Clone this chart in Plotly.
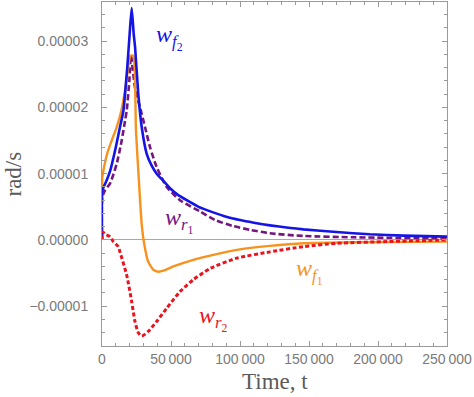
import plotly.graph_objects as go

# ---- data (values in units of 1e-5 rad/s) ----
t_wf2 = [0, 300, 3000, 6000, 10000, 13000, 15500, 18300, 20000, 21500, 23000, 24000, 26300, 28800,
         32400, 36000, 39600, 45000, 49300, 55000, 61400, 70000, 80000, 90000, 100000, 110000,
         121700, 135000, 146000, 170000, 194000, 218600, 250000]
v_wf2 = [0.0, 0.75, 0.88, 1.05, 1.4, 1.7, 1.95, 2.6, 3.1, 3.5, 3.1, 2.9, 2.2, 1.7,
         1.3, 1.12, 1.0, 0.88, 0.78, 0.68, 0.6, 0.5, 0.42, 0.35, 0.3, 0.26,
         0.22, 0.185, 0.16, 0.12, 0.085, 0.065, 0.05]

t_wf1 = [0, 300, 2000, 4000, 7000, 10600, 14000, 17000, 19000, 20500, 22700, 24600, 27000, 28800,
         30500, 33500, 37200, 40800, 45000, 51700, 66200, 80700, 97800, 121700, 146100, 182400, 250000]
v_wf1 = [0.0, 0.95, 1.15, 1.32, 1.5, 1.7, 1.95, 2.3, 2.6, 2.78, 2.78, 1.66, 0.8, 0.23,
         -0.05, -0.33, -0.45, -0.48, -0.46, -0.4, -0.3, -0.225, -0.15, -0.09, -0.05, -0.035, -0.025]

t_wr1 = [0, 300, 2200, 5800, 10650, 14270, 16700, 17900, 19800, 21000, 23900, 28800, 31200,
         34800, 39600, 46900, 56500, 71000, 82000, 94900, 108000, 121700, 146100, 182400, 250000]
v_wr1 = [0.0, 0.65, 0.75, 0.85, 1.15, 1.5, 1.8, 1.95, 2.4, 2.78, 2.3, 1.9, 1.7,
         1.4, 1.1, 0.8, 0.6, 0.43, 0.3, 0.21, 0.15, 0.1, 0.06, 0.04, 0.025]

t_wr2 = [0, 400, 3000, 5800, 8200, 11800, 13000, 17900, 21500, 23900, 26300, 28800, 33500,
         39600, 46900, 56500, 66200, 78300, 97600, 121700, 146100, 170300, 206500, 250000]
v_wr2 = [0.0, 0.12, 0.08, 0.05, -0.025, -0.1, -0.18, -0.53, -0.93, -1.23, -1.4, -1.45, -1.38,
         -1.23, -1.03, -0.78, -0.6, -0.43, -0.275, -0.18, -0.1, -0.05, -0.025, 0.0]

SCALE = 1e-5

x_tickvals = [0, 50000, 100000, 150000, 200000, 250000]
x_ticktext = ["0", "50\u2009000", "100\u2009000", "150\u2009000", "200\u2009000", "250\u2009000"]
y_tickvals = [-0.00001, 0.0, 0.00001, 0.00002, 0.00003]
y_ticktext = ["\u22120.00001", "0.00000", "0.00001", "0.00002", "0.00003"]

BLUE = "#1414e6"
ORANGE = "#f7921e"
PURPLE = "#73167f"
RED = "#e8141e"

fig = go.Figure()
fig.add_trace(go.Scatter(x=t_wr1, y=[v * SCALE for v in v_wr1], mode="lines",
                         line=dict(color=PURPLE, width=2.6, dash="6px,3px", shape="spline", smoothing=0.6)))
fig.add_trace(go.Scatter(x=t_wf1, y=[v * SCALE for v in v_wf1], mode="lines",
                         line=dict(color=ORANGE, width=2.4, shape="spline", smoothing=0.5)))
fig.add_trace(go.Scatter(x=t_wf2, y=[v * SCALE for v in v_wf2], mode="lines",
                         line=dict(color=BLUE, width=2.6, shape="spline", smoothing=0.5)))
fig.add_trace(go.Scatter(x=t_wr2, y=[v * SCALE for v in v_wr2], mode="lines",
                         line=dict(color=RED, width=3, dash="4px,2.5px", shape="spline", smoothing=0.6)))

AX = "#9a9a9a"
TICKFONT = dict(family="Liberation Sans, Arial, sans-serif", size=14, color="#7a7a7a")

fig.update_xaxes(range=[0, 250000], showgrid=False, zeroline=False,
                 showline=True, linecolor=AX, linewidth=1, mirror="ticks",
                 ticks="inside", ticklen=5, tickcolor=AX, tickwidth=1,
                 tickvals=x_tickvals, ticktext=x_ticktext, tickfont=TICKFONT,
                 ticklabelstandoff=0,
                 minor=dict(dtick=10000, ticks="inside", ticklen=3, tickcolor=AX, showgrid=False))
fig.update_yaxes(range=[-0.0000160, 0.0000359], showgrid=False,
                 zeroline=True, zerolinecolor="#a8a8a8", zerolinewidth=1,
                 showline=True, linecolor=AX, linewidth=1, mirror="ticks",
                 ticks="inside", ticklen=5, tickcolor=AX, tickwidth=1,
                 tickvals=y_tickvals, ticktext=y_ticktext, tickfont=TICKFONT,
                 ticklabelstandoff=10,
                 minor=dict(dtick=0.000002, ticks="inside", ticklen=3, tickcolor=AX, showgrid=False))

SERIF = "Liberation Serif, Times New Roman, serif"
annotations = [
    dict(text="Time, t", xref="paper", yref="paper", x=0.5, y=0, yanchor="top", yshift=-21,
         showarrow=False, font=dict(family=SERIF, size=23, color="#5a5a5a")),
    dict(text="rad/s", xref="paper", yref="paper", x=0, y=0.5, xanchor="center", yanchor="middle",
         xshift=-89.5, textangle=-90, showarrow=False, font=dict(family=SERIF, size=23, color="#5a5a5a")),
]
labels = [
    (38000, 3.05, "f", "2", BLUE),
    (44500, 0.3, "r", "1", PURPLE),
    (139000, -0.47, "f", "1", ORANGE),
    (69000, -1.18, "r", "2", RED),
]
for x, y, sub, subsub, col in labels:
    annotations.append(dict(
        text=f"<i>w</i><sub><i>{sub}</i><sub>{subsub}</sub></sub>",
        x=x, y=y * SCALE, xanchor="left", yanchor="middle", showarrow=False,
        font=dict(family=SERIF, size=24, color=col)))

fig.update_layout(width=474, height=397, margin=dict(l=102, r=27, t=2, b=51),
                  plot_bgcolor="white", paper_bgcolor="white", showlegend=False,
                  annotations=annotations)

fig.write_html("out.html", config={"displayModeBar": False},
               post_script="document.body.style.margin='0';document.body.style.padding='0';")
